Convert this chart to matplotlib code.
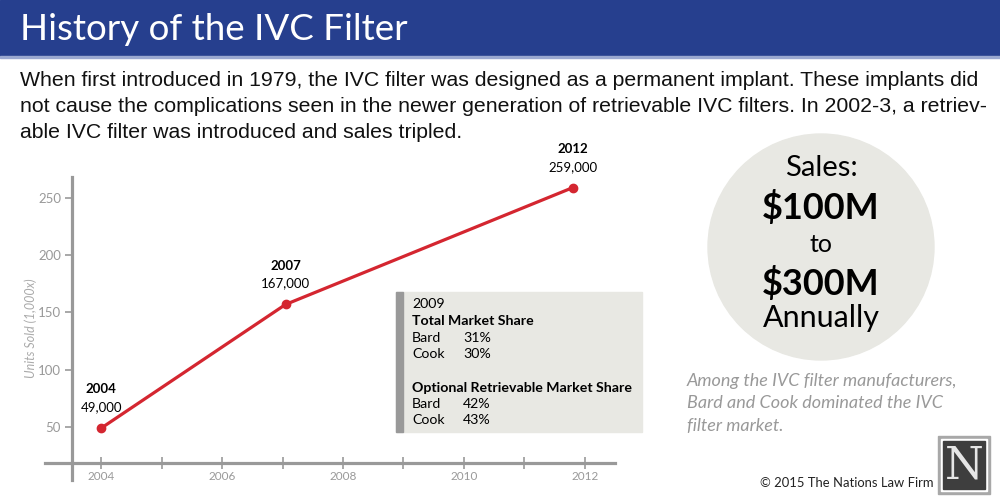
import matplotlib.pyplot as plt
from matplotlib.patches import Rectangle, Circle
from matplotlib.ticker import FixedLocator

# ---- data ----
years = [2004, 2007.05, 2011.8]
units = [49, 157, 259]
point_years = ["2004", "2007", "2012"]
point_labels = ["49,000", "167,000", "259,000"]
ytick_vals = [50, 100, 150, 200, 250]
xtick_major = [2004, 2006, 2008, 2010, 2012]
xtick_minor = [2005, 2007, 2009, 2011]

share_total = [("Bard", "31%"), ("Cook", "30%")]
share_retrievable = [("Bard", "42%"), ("Cook", "43%")]

title = "History of the IVC Filter"
intro = ["When first introduced in 1979, the IVC filter was designed as a permanent implant. These implants did",
         "not cause the complications seen in the newer generation of retrievable IVC filters. In 2002-3, a retriev-",
         "able IVC filter was introduced and sales tripled."]
note = ["Among the IVC filter manufacturers,", "Bard and Cook dominated the IVC", "filter market."]

BLUE = "#263f8e"
RED = "#d42630"
GREY = "#999999"
PANEL = "#e8e8e3"
SANS = ["Lato", "DejaVu Sans"]
NARROW = ["Liberation Sans", "DejaVu Sans"]

plt.rcParams["font.family"] = SANS

fig = plt.figure(figsize=(10, 5), dpi=100)

# overlay axes in pixel coordinates (y down)
ov = fig.add_axes([0, 0, 1, 1], zorder=0)
ov.set_xlim(0, 1000)
ov.set_ylim(500, 0)
ov.axis("off")

# header
ov.add_patch(Rectangle((0, 0), 1000, 56, color=BLUE))
ov.add_patch(Rectangle((0, 56), 1000, 2, color="#9aa8d0"))
ov.text(20, 30, title, color="white", fontsize=26.5, va="center", ha="left")

for i, line in enumerate(intro):
    ov.text(20, 81 + i * 25.5, line, fontsize=15.3, va="center", ha="left",
            family=NARROW, color="#111111")

# market share box
fs_box = 10.2
ov.add_patch(Rectangle((396, 292), 246, 140, color=PANEL))
ov.add_patch(Rectangle((396, 292), 7, 140, color=GREY))
ty = 304
ov.text(412, ty, "2009", fontsize=fs_box, va="center")
ov.text(412, ty + 17, "Total Market Share", fontsize=fs_box, va="center", weight="bold")
for k, (name, pct) in enumerate(share_total):
    ov.text(412, ty + 34 + k * 16.5, name, fontsize=fs_box, va="center")
    ov.text(463, ty + 34 + k * 16.5, pct, fontsize=fs_box, va="center")
ov.text(412, ty + 84, "Optional Retrievable Market Share", fontsize=fs_box, va="center", weight="bold")
for k, (name, pct) in enumerate(share_retrievable):
    ov.text(412, ty + 100 + k * 16.5, name, fontsize=fs_box, va="center")
    ov.text(463, ty + 100 + k * 16.5, pct, fontsize=fs_box, va="center")

# sales circle
ov.add_patch(Circle((821, 247), 113, color=PANEL))
ov.text(821, 168, "Sales:", fontsize=21, ha="center", va="center")
ov.text(821, 207, "$100M", fontsize=26, ha="center", va="center", weight="bold")
ov.text(821, 245, "to", fontsize=18, ha="center", va="center")
ov.text(821, 283, "$300M", fontsize=26, ha="center", va="center", weight="bold")
ov.text(821, 318, "Annually", fontsize=22, ha="center", va="center")

for i, line in enumerate(note):
    ov.text(687, 381 + i * 22.5, line, fontsize=13, style="italic", color=GREY,
            va="center", ha="left")

# footer and logo
ov.text(933, 483, "\u00a9 2015 The Nations Law Firm", fontsize=9.4, ha="right", va="center",
        color="#222222")
ov.add_patch(Rectangle((938, 436), 52, 58, color="#a8a8a8"))
ov.add_patch(Rectangle((941, 439), 46, 52, color="white"))
ov.add_patch(Rectangle((943, 441), 42, 48, color="#3e3e3e"))
ov.text(964, 466, "N", fontsize=32, family="DejaVu Serif", color="#e6e6e6",
        ha="center", va="center")

# ---- line chart ----
ax = fig.add_axes([0.045, 0.04, 0.57, 0.606], zorder=1)
ax.set_facecolor("none")
ax.set_xlim(2003.07, 2012.5)
ax.set_ylim(3.7, 268.3)

ax.plot(years, units, color=RED, lw=2.3, marker="o", ms=6, clip_on=False)
for x, y, yr, lab in zip(years, units, point_years, point_labels):
    ax.annotate(yr, (x, y), xytext=(0, 28), textcoords="offset points",
                ha="center", va="center", fontsize=9.5, weight="bold")
    ax.annotate(lab, (x, y), xytext=(0, 15), textcoords="offset points",
                ha="center", va="center", fontsize=9.5)

for s in ["top", "right"]:
    ax.spines[s].set_visible(False)
ax.spines["left"].set_position(("data", 2003.52))
ax.spines["bottom"].set_position(("data", 18.6))
for s in ["left", "bottom"]:
    ax.spines[s].set_color(GREY)
    ax.spines[s].set_linewidth(2.3)

ax.set_yticks(ytick_vals)
ax.set_xticks(xtick_major)
ax.xaxis.set_minor_locator(FixedLocator(xtick_minor))
ax.tick_params(axis="y", direction="out", length=5, width=1.2, color=GREY,
               labelcolor=GREY, labelsize=9.5, pad=3)
ax.tick_params(axis="x", which="both", direction="inout", length=8, width=1.2,
               color=GREY, labelcolor=GREY, labelsize=8.5, pad=2)
ax.set_ylabel("Units Sold (1,000x)", style="italic", color="#aaaaaa", fontsize=9, labelpad=1)

fig.savefig("out.png", dpi=100)
